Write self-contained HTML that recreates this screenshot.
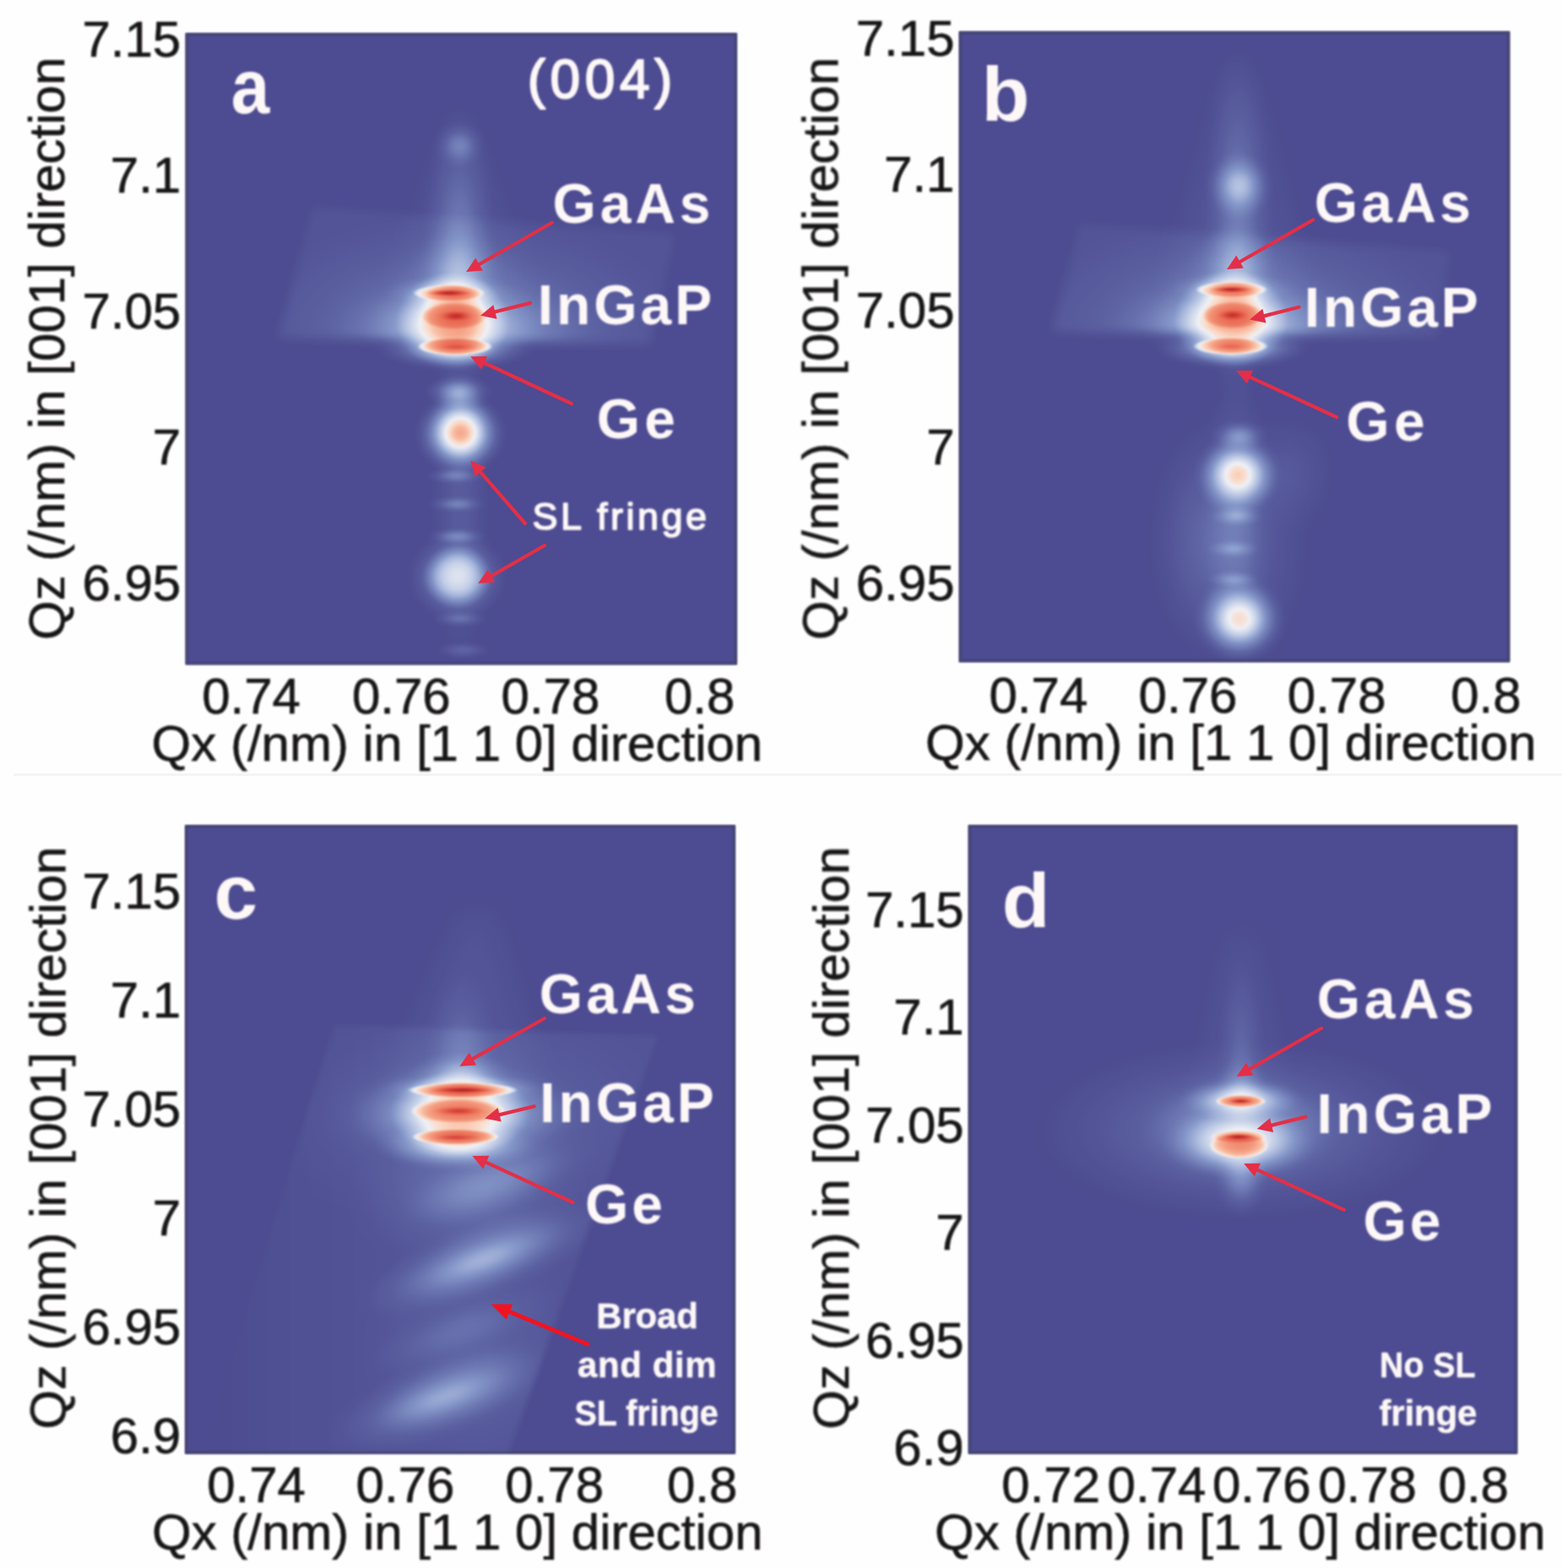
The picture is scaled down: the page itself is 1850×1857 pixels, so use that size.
<!DOCTYPE html>
<html lang="en"><head><meta charset="utf-8"><title>Reciprocal space maps (004)</title>
<style>
html,body{margin:0;padding:0;background:#fff;}
body{width:1850px;height:1857px;overflow:hidden;}
svg{display:block;}
text{font-family:"Liberation Sans", Arial, Helvetica, sans-serif;}
</style></head><body>
<svg width="1850" height="1857" viewBox="0 0 1850 1857">
<defs>
<radialGradient id="g1"><stop offset="0" stop-color="#fff" stop-opacity="1"/><stop offset="0.15" stop-color="#fff" stop-opacity="0.93"/><stop offset="0.3" stop-color="#fff" stop-opacity="0.76"/><stop offset="0.45" stop-color="#fff" stop-opacity="0.54"/><stop offset="0.6" stop-color="#fff" stop-opacity="0.33"/><stop offset="0.75" stop-color="#fff" stop-opacity="0.16"/><stop offset="0.88" stop-color="#fff" stop-opacity="0.05"/><stop offset="1" stop-color="#fff" stop-opacity="0"/></radialGradient>
<radialGradient id="gh"><stop offset="0" stop-color="#fff" stop-opacity="1"/><stop offset="0.4" stop-color="#fff" stop-opacity="0.95"/><stop offset="0.6" stop-color="#fff" stop-opacity="0.75"/><stop offset="0.8" stop-color="#fff" stop-opacity="0.35"/><stop offset="1" stop-color="#fff" stop-opacity="0"/></radialGradient>
<radialGradient id="pk"><stop offset="0" stop-color="#fff" stop-opacity="1"/><stop offset="0.5" stop-color="#fff" stop-opacity="0.95"/><stop offset="0.75" stop-color="#fff" stop-opacity="0.8"/><stop offset="0.9" stop-color="#fff" stop-opacity="0.5"/><stop offset="1" stop-color="#fff" stop-opacity="0"/></radialGradient>
<filter id="cmap" x="-2%" y="-2%" width="104%" height="104%" color-interpolation-filters="sRGB">
<feComponentTransfer>
<feFuncR type="table" tableValues="0.302 0.315 0.327 0.340 0.352 0.365 0.385 0.404 0.424 0.444 0.464 0.484 0.504 0.531 0.565 0.600 0.634 0.668 0.703 0.737 0.771 0.805 0.839 0.873 0.907 0.941 0.952 0.963 0.974 0.984 0.980 0.975 0.970 0.965 0.961 0.952 0.944 0.935 0.926 0.918 0.900 0.883 0.866 0.849 0.831 0.796 0.760 0.724 0.682 0.635 0.588"/>
<feFuncG type="table" tableValues="0.298 0.316 0.334 0.352 0.370 0.388 0.414 0.441 0.467 0.493 0.519 0.545 0.571 0.600 0.631 0.663 0.694 0.725 0.757 0.788 0.814 0.841 0.867 0.893 0.919 0.945 0.921 0.896 0.872 0.847 0.803 0.759 0.715 0.671 0.627 0.587 0.546 0.505 0.464 0.424 0.387 0.351 0.315 0.279 0.243 0.218 0.194 0.169 0.147 0.129 0.110"/>
<feFuncB type="table" tableValues="0.569 0.583 0.597 0.611 0.625 0.639 0.659 0.678 0.697 0.717 0.736 0.755 0.775 0.793 0.811 0.828 0.846 0.863 0.881 0.898 0.909 0.920 0.931 0.942 0.954 0.965 0.916 0.867 0.818 0.769 0.717 0.665 0.613 0.562 0.510 0.475 0.441 0.406 0.372 0.337 0.311 0.284 0.257 0.231 0.204 0.190 0.177 0.164 0.152 0.143 0.133"/>
</feComponentTransfer>
<feGaussianBlur stdDeviation="1.1"/>
</filter>
<filter id="edge" x="-2%" y="-2%" width="104%" height="104%"><feGaussianBlur stdDeviation="0.9"/></filter>
<linearGradient id="lgc" x1="0" y1="0" x2="1" y2="0"><stop offset="0" stop-color="#fff" stop-opacity="0"/><stop offset="0.45" stop-color="#fff" stop-opacity="1"/><stop offset="1" stop-color="#fff" stop-opacity="1"/></linearGradient>
<filter id="soft" x="-5%" y="-20%" width="110%" height="140%"><feGaussianBlur stdDeviation="0.95"/></filter>
<filter id="b3" x="-20%" y="-20%" width="140%" height="140%"><feGaussianBlur stdDeviation="3"/></filter>
<filter id="b6" x="-20%" y="-20%" width="140%" height="140%"><feGaussianBlur stdDeviation="6"/></filter>
<filter id="b10" x="-30%" y="-30%" width="160%" height="160%"><feGaussianBlur stdDeviation="10"/></filter>
<filter id="b20" x="-50%" y="-50%" width="200%" height="200%"><feGaussianBlur stdDeviation="20"/></filter>
</defs>
<rect width="1850" height="1857" fill="#fefefe"/>
<rect x="16" y="916" width="1834" height="3" fill="#f4f4f4"/>

<!-- panel a -->
<clipPath id="cpa"><rect x="219.4" y="39" width="653.6" height="748.5"/></clipPath>
<g filter="url(#cmap)"><g clip-path="url(#cpa)">
<rect x="219.4" y="39" width="653.6" height="748.5" fill="#000"/>
<clipPath id="ka1"><polygon points="371,246 799,278 770,408 329,400"/></clipPath>
<g filter="url(#b6)"><g clip-path="url(#ka1)">
<polygon points="300,200 850,200 850,450 300,450" fill="#fff" opacity="0.04"/>
<ellipse cx="545" cy="392" rx="270" ry="140" fill="url(#g1)" opacity="0.17"/>
<ellipse cx="545" cy="390" rx="160" ry="60" fill="url(#g1)" opacity="0.14"/>
</g></g>
<polygon points="535,150 555,150 620,350 470,350" fill="#fff" opacity="0.04" filter="url(#b20)"/>
<ellipse cx="544" cy="300" rx="46" ry="190" fill="url(#g1)" opacity="0.15"/>
<ellipse cx="542" cy="325" rx="60" ry="60" fill="url(#g1)" opacity="0.12"/>
<ellipse cx="545" cy="600" rx="40" ry="220" fill="url(#g1)" opacity="0.07"/>
<ellipse cx="538" cy="385" rx="110" ry="62" fill="url(#g1)" opacity="0.2"/>
<ellipse cx="536" cy="380" rx="68" ry="58" fill="url(#gh)" opacity="0.26"/>
<ellipse cx="540" cy="414" rx="95" ry="24" fill="url(#g1)" opacity="0.3"/>
<ellipse cx="532" cy="345" rx="80" ry="20" fill="url(#g1)" opacity="0.15"/>
<ellipse cx="536" cy="378" rx="42" ry="46" fill="url(#gh)" opacity="0.17"/>
<ellipse cx="531.6" cy="347" rx="43" ry="9.5" fill="url(#pk)" opacity="0.36"/>
<ellipse cx="531.6" cy="347" rx="30" ry="4.5" fill="url(#g1)" opacity="0.85"/>
<ellipse cx="537.5" cy="374.3" rx="39" ry="16" fill="url(#pk)" opacity="0.33"/>
<ellipse cx="540" cy="374.3" rx="22" ry="7" fill="url(#g1)" opacity="0.7"/>
<ellipse cx="539" cy="410.6" rx="45" ry="10" fill="url(#pk)" opacity="0.45"/>
<ellipse cx="541" cy="411" rx="28" ry="4.5" fill="url(#g1)" opacity="0.3"/>
<ellipse cx="545.4" cy="513.7" rx="56" ry="50" fill="url(#g1)" opacity="0.61"/>
<ellipse cx="545.4" cy="500" rx="40" ry="50" fill="url(#g1)" opacity="0.15"/>
<ellipse cx="541.4" cy="683" rx="62" ry="56" fill="url(#g1)" opacity="0.3"/>
<ellipse cx="541.4" cy="683" rx="42" ry="38" fill="url(#gh)" opacity="0.2"/>
<ellipse cx="544.4" cy="172" rx="32" ry="30" fill="url(#g1)" opacity="0.15"/>
<ellipse cx="543" cy="464" rx="42" ry="22" fill="url(#g1)" opacity="0.27"/>
<ellipse cx="539" cy="563.5" rx="38" ry="11" fill="url(#g1)" opacity="0.15"/>
<ellipse cx="541" cy="597" rx="38" ry="11" fill="url(#g1)" opacity="0.14"/>
<ellipse cx="541" cy="635" rx="38" ry="11" fill="url(#g1)" opacity="0.15"/>
<ellipse cx="545" cy="733" rx="36" ry="11" fill="url(#g1)" opacity="0.12"/>
<ellipse cx="549" cy="770" rx="36" ry="11" fill="url(#g1)" opacity="0.1"/>
</g></g>
<rect x="221.1" y="40.7" width="650.2" height="745.1" fill="none" stroke="#3a3a52" stroke-width="2.6" opacity="0.6" filter="url(#edge)"/>
<path d="M653.8 263.7L565.0 314.5" stroke="#e32f48" stroke-width="4.2" stroke-linecap="round" fill="none"/><path d="M552.0 322.0L563.3 305.6L571.9 320.5Z" fill="#e32f48"/>
<path d="M627.9 358.9L583.5 370.0" stroke="#e32f48" stroke-width="4.2" stroke-linecap="round" fill="none"/><path d="M569.0 373.7L584.4 361.0L588.6 377.7Z" fill="#e32f48"/>
<path d="M677.0 478.0L570.9 428.5" stroke="#e32f48" stroke-width="4.2" stroke-linecap="round" fill="none"/><path d="M557.3 422.2L577.2 422.0L570.0 437.6Z" fill="#e32f48"/>
<path d="M622.0 620.0L567.2 556.8" stroke="#e32f48" stroke-width="4.2" stroke-linecap="round" fill="none"/><path d="M557.4 545.5L575.7 553.5L562.7 564.7Z" fill="#e32f48"/>
<path d="M645.0 646.0L579.3 683.6" stroke="#e32f48" stroke-width="4.2" stroke-linecap="round" fill="none"/><path d="M566.3 691.0L577.7 674.6L586.2 689.5Z" fill="#e32f48"/>
<text transform="translate(273.80 134.2) scale(0.900 1)" font-size="91" fill="#fdf8f7" font-weight="bold" filter="url(#soft)">a</text>
<text x="624.7" y="115.6" font-size="64" fill="#fdf8f7" stroke="#fdf8f7" stroke-width="2" stroke-linejoin="round" letter-spacing="5.57" filter="url(#soft)">(004)</text>
<text x="654.6" y="263.5" font-size="66" fill="#fdf8f7" font-weight="bold" letter-spacing="4.80" filter="url(#soft)">GaAs</text>
<text x="636.8" y="383.6" font-size="66" fill="#fdf8f7" font-weight="bold" letter-spacing="3.93" filter="url(#soft)">InGaP</text>
<text x="706.8" y="518.6" font-size="66" fill="#fdf8f7" font-weight="bold" letter-spacing="5.20" filter="url(#soft)">Ge</text>
<text x="630.4" y="627" font-size="45" fill="#fdf8f7" stroke="#fdf8f7" stroke-width="1.6" stroke-linejoin="round" letter-spacing="3.54" filter="url(#soft)">SL fringe</text>
<text x="214.2" y="67.3" font-size="60" fill="#151313" text-anchor="end" stroke="#151313" stroke-width="0.6" filter="url(#soft)">7.15</text>
<text x="214.2" y="228.2" font-size="60" fill="#151313" text-anchor="end" stroke="#151313" stroke-width="0.6" filter="url(#soft)">7.1</text>
<text x="214.2" y="389.1" font-size="60" fill="#151313" text-anchor="end" stroke="#151313" stroke-width="0.6" filter="url(#soft)">7.05</text>
<text x="214.2" y="550" font-size="60" fill="#151313" text-anchor="end" stroke="#151313" stroke-width="0.6" filter="url(#soft)">7</text>
<text x="214.2" y="710.9" font-size="60" fill="#151313" text-anchor="end" stroke="#151313" stroke-width="0.6" filter="url(#soft)">6.95</text>
<text x="297.6" y="844.8" font-size="60" fill="#151313" text-anchor="middle" stroke="#151313" stroke-width="0.6" filter="url(#soft)">0.74</text>
<text x="475.3" y="844.8" font-size="60" fill="#151313" text-anchor="middle" stroke="#151313" stroke-width="0.6" filter="url(#soft)">0.76</text>
<text x="652" y="844.8" font-size="60" fill="#151313" text-anchor="middle" stroke="#151313" stroke-width="0.6" filter="url(#soft)">0.78</text>
<text x="828.6" y="844.8" font-size="60" fill="#151313" text-anchor="middle" stroke="#151313" stroke-width="0.6" filter="url(#soft)">0.8</text>
<text x="179.6" y="901.2" font-size="60" fill="#151313" stroke="#151313" stroke-width="0.6" filter="url(#soft)">Qx (/nm) in [1 1 0] direction</text>
<text x="76" y="758" font-size="60" fill="#151313" transform="rotate(-90 76 758)" stroke="#151313" stroke-width="0.6" filter="url(#soft)">Qz (/nm) in [001] direction</text>
<!-- panel b -->
<clipPath id="cpb"><rect x="1135.5" y="37" width="653" height="747.5"/></clipPath>
<g filter="url(#cmap)"><g clip-path="url(#cpb)">
<rect x="1135.5" y="37" width="653" height="747.5" fill="#000"/>
<clipPath id="kb1"><polygon points="1279,266 1717,298 1703,399 1245,393"/></clipPath>
<g filter="url(#b6)"><g clip-path="url(#kb1)">
<polygon points="1200,200 1780,200 1780,450 1200,450" fill="#fff" opacity="0.04"/>
<ellipse cx="1466" cy="390" rx="270" ry="140" fill="url(#g1)" opacity="0.17"/>
<ellipse cx="1466" cy="388" rx="160" ry="60" fill="url(#g1)" opacity="0.14"/>
</g></g>
<polygon points="1458,80 1476,80 1545,345 1385,345" fill="#fff" opacity="0.04" filter="url(#b20)"/>
<ellipse cx="1466" cy="270" rx="44" ry="230" fill="url(#g1)" opacity="0.15"/>
<ellipse cx="1462" cy="322" rx="60" ry="60" fill="url(#g1)" opacity="0.12"/>
<ellipse cx="1464" cy="620" rx="45" ry="200" fill="url(#g1)" opacity="0.09"/>
<ellipse cx="1420" cy="640" rx="70" ry="150" fill="url(#g1)" opacity="0.07"/>
<ellipse cx="1530" cy="560" rx="60" ry="80" fill="url(#g1)" opacity="0.05"/>
<ellipse cx="1459" cy="383" rx="110" ry="62" fill="url(#g1)" opacity="0.2"/>
<ellipse cx="1458" cy="378" rx="68" ry="58" fill="url(#gh)" opacity="0.26"/>
<ellipse cx="1459" cy="413" rx="95" ry="24" fill="url(#g1)" opacity="0.3"/>
<ellipse cx="1458" cy="341" rx="80" ry="20" fill="url(#g1)" opacity="0.15"/>
<ellipse cx="1458" cy="377" rx="42" ry="46" fill="url(#gh)" opacity="0.17"/>
<ellipse cx="1458.7" cy="342.9" rx="43" ry="9" fill="url(#pk)" opacity="0.36"/>
<ellipse cx="1458.7" cy="342.9" rx="28" ry="4.2" fill="url(#g1)" opacity="0.85"/>
<ellipse cx="1459.9" cy="373.2" rx="36" ry="16" fill="url(#pk)" opacity="0.33"/>
<ellipse cx="1460" cy="373.2" rx="20" ry="7" fill="url(#g1)" opacity="0.65"/>
<ellipse cx="1457.5" cy="410.1" rx="45" ry="10" fill="url(#pk)" opacity="0.42"/>
<ellipse cx="1458" cy="410.5" rx="26" ry="4.5" fill="url(#g1)" opacity="0.2"/>
<ellipse cx="1466" cy="640" rx="95" ry="180" fill="url(#g1)" opacity="0.09"/>
<ellipse cx="1466.5" cy="562" rx="54" ry="50" fill="url(#g1)" opacity="0.55"/>
<ellipse cx="1468.3" cy="733.4" rx="56" ry="52" fill="url(#g1)" opacity="0.54"/>
<ellipse cx="1468" cy="220" rx="42" ry="42" fill="url(#g1)" opacity="0.25"/>
<ellipse cx="1468" cy="516" rx="36" ry="20" fill="url(#g1)" opacity="0.2"/>
<ellipse cx="1465" cy="611" rx="34" ry="14" fill="url(#g1)" opacity="0.16"/>
<ellipse cx="1461" cy="650" rx="34" ry="12" fill="url(#g1)" opacity="0.13"/>
<ellipse cx="1461" cy="686" rx="34" ry="12" fill="url(#g1)" opacity="0.14"/>
</g></g>
<rect x="1137.2" y="38.7" width="649.6" height="744.1" fill="none" stroke="#3a3a52" stroke-width="2.6" opacity="0.6" filter="url(#edge)"/>
<path d="M1555.0 260.5L1466.0 311.5" stroke="#e32f48" stroke-width="4.2" stroke-linecap="round" fill="none"/><path d="M1453.0 319.0L1464.3 302.6L1472.9 317.5Z" fill="#e32f48"/>
<path d="M1538.4 363.7L1494.5 374.9" stroke="#e32f48" stroke-width="4.2" stroke-linecap="round" fill="none"/><path d="M1480.0 378.6L1495.3 365.8L1499.6 382.5Z" fill="#e32f48"/>
<path d="M1583.0 494.0L1477.8 445.3" stroke="#e32f48" stroke-width="4.2" stroke-linecap="round" fill="none"/><path d="M1464.2 439.0L1484.1 438.8L1476.9 454.4Z" fill="#e32f48"/>
<text transform="translate(1162.46 142.6) scale(1.024 1)" font-size="91" fill="#fdf8f7" font-weight="bold" filter="url(#soft)">b</text>
<text x="1556.8" y="263.3" font-size="66" fill="#fdf8f7" font-weight="bold" letter-spacing="4.23" filter="url(#soft)">GaAs</text>
<text x="1544.8" y="387.4" font-size="66" fill="#fdf8f7" font-weight="bold" letter-spacing="3.80" filter="url(#soft)">InGaP</text>
<text x="1594.3" y="522" font-size="66" fill="#fdf8f7" font-weight="bold" letter-spacing="5.40" filter="url(#soft)">Ge</text>
<text x="1130.5" y="66.2" font-size="60" fill="#151313" text-anchor="end" stroke="#151313" stroke-width="0.6" filter="url(#soft)">7.15</text>
<text x="1130.5" y="227.3" font-size="60" fill="#151313" text-anchor="end" stroke="#151313" stroke-width="0.6" filter="url(#soft)">7.1</text>
<text x="1130.5" y="388.4" font-size="60" fill="#151313" text-anchor="end" stroke="#151313" stroke-width="0.6" filter="url(#soft)">7.05</text>
<text x="1130.5" y="549.5" font-size="60" fill="#151313" text-anchor="end" stroke="#151313" stroke-width="0.6" filter="url(#soft)">7</text>
<text x="1130.5" y="710.6" font-size="60" fill="#151313" text-anchor="end" stroke="#151313" stroke-width="0.6" filter="url(#soft)">6.95</text>
<text x="1229.9" y="844" font-size="60" fill="#151313" text-anchor="middle" stroke="#151313" stroke-width="0.6" filter="url(#soft)">0.74</text>
<text x="1407" y="844" font-size="60" fill="#151313" text-anchor="middle" stroke="#151313" stroke-width="0.6" filter="url(#soft)">0.76</text>
<text x="1583.2" y="844" font-size="60" fill="#151313" text-anchor="middle" stroke="#151313" stroke-width="0.6" filter="url(#soft)">0.78</text>
<text x="1759.9" y="844" font-size="60" fill="#151313" text-anchor="middle" stroke="#151313" stroke-width="0.6" filter="url(#soft)">0.8</text>
<text x="1096" y="900.2" font-size="60" fill="#151313" stroke="#151313" stroke-width="0.6" filter="url(#soft)">Qx (/nm) in [1 1 0] direction</text>
<text x="992.3" y="758" font-size="60" fill="#151313" transform="rotate(-90 992.3 758)" stroke="#151313" stroke-width="0.6" filter="url(#soft)">Qz (/nm) in [001] direction</text>
<!-- panel c -->
<clipPath id="cpc"><rect x="219" y="977" width="652" height="745"/></clipPath>
<g filter="url(#cmap)"><g clip-path="url(#cpc)">
<rect x="219" y="977" width="652" height="745" fill="#000"/>
<clipPath id="kc1"><polygon points="396,1214 779,1227 601,1725 237,1725"/></clipPath>
<g filter="url(#b3)"><g clip-path="url(#kc1)">
<polygon points="230,1200 800,1200 800,1730 230,1730" fill="url(#lgc)" opacity="0.04"/>
<ellipse cx="545" cy="1320" rx="270" ry="140" fill="url(#g1)" opacity="0.07"/>
<ellipse cx="545" cy="1320" rx="170" ry="70" fill="url(#g1)" opacity="0.1"/>
<ellipse cx="555" cy="1420" rx="150" ry="90" fill="url(#g1)" opacity="0.1"/>
<ellipse cx="560" cy="1600" rx="140" ry="160" fill="url(#g1)" opacity="0.06"/>
<ellipse cx="590" cy="1398" rx="130" ry="40" fill="url(#g1)" opacity="0.12" transform="rotate(-19 590 1398)"/>
<ellipse cx="572" cy="1492" rx="160" ry="46" fill="url(#g1)" opacity="0.22" transform="rotate(-20 572 1492)"/>
<ellipse cx="572" cy="1492" rx="90" ry="24" fill="url(#g1)" opacity="0.08" transform="rotate(-20 572 1492)"/>
<ellipse cx="525" cy="1655" rx="150" ry="48" fill="url(#g1)" opacity="0.2" transform="rotate(-20 525 1655)"/>
<ellipse cx="525" cy="1655" rx="90" ry="24" fill="url(#g1)" opacity="0.07" transform="rotate(-20 525 1655)"/>
<ellipse cx="545" cy="1575" rx="130" ry="34" fill="url(#g1)" opacity="0.06" transform="rotate(-20 545 1575)"/>
</g></g>
<polygon points="552,1080 580,1080 640,1290 460,1290" fill="#fff" opacity="0.04" filter="url(#b20)"/>
<ellipse cx="547" cy="1250" rx="46" ry="110" fill="url(#g1)" opacity="0.1"/>
<ellipse cx="546" cy="1272" rx="65" ry="28" fill="url(#g1)" opacity="0.17"/>
<ellipse cx="545" cy="1320" rx="145" ry="62" fill="url(#g1)" opacity="0.27"/>
<ellipse cx="545" cy="1318" rx="84" ry="50" fill="url(#gh)" opacity="0.26"/>
<ellipse cx="542" cy="1357" rx="100" ry="30" fill="url(#g1)" opacity="0.33"/>
<ellipse cx="548" cy="1289" rx="100" ry="18" fill="url(#g1)" opacity="0.22"/>
<ellipse cx="544" cy="1318" rx="54" ry="40" fill="url(#gh)" opacity="0.12"/>
<ellipse cx="548.1" cy="1291" rx="66" ry="8.5" fill="url(#pk)" opacity="0.45"/>
<ellipse cx="548.1" cy="1291" rx="44" ry="4" fill="url(#g1)" opacity="0.85"/>
<ellipse cx="542" cy="1315.8" rx="56" ry="14" fill="url(#pk)" opacity="0.33"/>
<ellipse cx="543" cy="1315.8" rx="34" ry="6" fill="url(#g1)" opacity="0.55"/>
<ellipse cx="539.4" cy="1346.5" rx="52" ry="9" fill="url(#pk)" opacity="0.45"/>
<ellipse cx="540" cy="1347" rx="32" ry="4" fill="url(#g1)" opacity="0.45"/>
</g></g>
<rect x="220.7" y="978.7" width="648.6" height="741.6" fill="none" stroke="#3a3a52" stroke-width="2.6" opacity="0.6" filter="url(#edge)"/>
<path d="M645.0 1206.0L557.4 1255.4" stroke="#e32f48" stroke-width="4.2" stroke-linecap="round" fill="none"/><path d="M544.3 1262.8L555.8 1246.5L564.2 1261.4Z" fill="#e32f48"/>
<path d="M632.7 1310.2L588.8 1320.9" stroke="#e32f48" stroke-width="4.2" stroke-linecap="round" fill="none"/><path d="M574.2 1324.5L589.6 1311.9L593.7 1328.6Z" fill="#e32f48"/>
<path d="M678.5 1424.0L573.1 1375.3" stroke="#e32f48" stroke-width="4.2" stroke-linecap="round" fill="none"/><path d="M559.5 1369.0L579.4 1368.7L572.2 1384.4Z" fill="#e32f48"/>
<path d="M696.0 1592.0L600.7 1552.4" stroke="#f01422" stroke-width="5" stroke-linecap="round" fill="none"/><path d="M581.3 1544.4L607.3 1544.4L599.6 1562.8Z" fill="#f01422"/>
<text transform="translate(253.48 1088.3) scale(1.030 1)" font-size="90" fill="#fdf8f7" font-weight="bold" filter="url(#soft)">c</text>
<text x="638.8" y="1199.8" font-size="66" fill="#fdf8f7" font-weight="bold" letter-spacing="4.23" filter="url(#soft)">GaAs</text>
<text x="639.2" y="1329.4" font-size="66" fill="#fdf8f7" font-weight="bold" letter-spacing="3.95" filter="url(#soft)">InGaP</text>
<text x="693" y="1449" font-size="66" fill="#fdf8f7" font-weight="bold" letter-spacing="4.00" filter="url(#soft)">Ge</text>
<text x="706.3" y="1573.4" font-size="42" fill="#fdf8f7" font-weight="bold" stroke="#fdf8f7" stroke-width="0.5" stroke-linejoin="round" letter-spacing="-0.20" filter="url(#soft)">Broad</text>
<text x="684" y="1631" font-size="42" fill="#fdf8f7" font-weight="bold" stroke="#fdf8f7" stroke-width="0.5" stroke-linejoin="round" letter-spacing="0.58" filter="url(#soft)">and dim</text>
<text transform="translate(680.56 1687.6) scale(0.939 1)" font-size="42" fill="#fdf8f7" font-weight="bold" stroke="#fdf8f7" stroke-width="0.5" stroke-linejoin="round" filter="url(#soft)">SL fringe</text>
<text x="214.2" y="1075.5" font-size="60" fill="#151313" text-anchor="end" stroke="#151313" stroke-width="0.6" filter="url(#soft)">7.15</text>
<text x="214.2" y="1204.5" font-size="60" fill="#151313" text-anchor="end" stroke="#151313" stroke-width="0.6" filter="url(#soft)">7.1</text>
<text x="214.2" y="1333.5" font-size="60" fill="#151313" text-anchor="end" stroke="#151313" stroke-width="0.6" filter="url(#soft)">7.05</text>
<text x="214.2" y="1462.5" font-size="60" fill="#151313" text-anchor="end" stroke="#151313" stroke-width="0.6" filter="url(#soft)">7</text>
<text x="214.2" y="1591.5" font-size="60" fill="#151313" text-anchor="end" stroke="#151313" stroke-width="0.6" filter="url(#soft)">6.95</text>
<text x="214.2" y="1720.5" font-size="60" fill="#151313" text-anchor="end" stroke="#151313" stroke-width="0.6" filter="url(#soft)">6.9</text>
<text x="303.6" y="1779" font-size="60" fill="#151313" text-anchor="middle" stroke="#151313" stroke-width="0.6" filter="url(#soft)">0.74</text>
<text x="480" y="1779" font-size="60" fill="#151313" text-anchor="middle" stroke="#151313" stroke-width="0.6" filter="url(#soft)">0.76</text>
<text x="656.7" y="1779" font-size="60" fill="#151313" text-anchor="middle" stroke="#151313" stroke-width="0.6" filter="url(#soft)">0.78</text>
<text x="831.7" y="1779" font-size="60" fill="#151313" text-anchor="middle" stroke="#151313" stroke-width="0.6" filter="url(#soft)">0.8</text>
<text x="180" y="1835" font-size="60" fill="#151313" stroke="#151313" stroke-width="0.6" filter="url(#soft)">Qx (/nm) in [1 1 0] direction</text>
<text x="77.2" y="1692.8" font-size="60" fill="#151313" transform="rotate(-90 77.2 1692.8)" stroke="#151313" stroke-width="0.6" filter="url(#soft)">Qz (/nm) in [001] direction</text>
<!-- panel d -->
<clipPath id="cpd"><rect x="1146.5" y="977" width="651" height="745"/></clipPath>
<g filter="url(#cmap)"><g clip-path="url(#cpd)">
<rect x="1146.5" y="977" width="651" height="745" fill="#000"/>
<ellipse cx="1470" cy="1338" rx="260" ry="115" fill="url(#g1)" opacity="0.16"/>
<polygon points="1462,1100 1478,1100 1520,1300 1420,1300" fill="#fff" opacity="0.04" filter="url(#b20)"/>
<ellipse cx="1470" cy="1250" rx="30" ry="130" fill="url(#g1)" opacity="0.08"/>
<ellipse cx="1470" cy="1290" rx="36" ry="40" fill="url(#g1)" opacity="0.1"/>
<ellipse cx="1470" cy="1395" rx="34" ry="50" fill="url(#g1)" opacity="0.16"/>
<ellipse cx="1468" cy="1338" rx="125" ry="75" fill="url(#g1)" opacity="0.17"/>
<ellipse cx="1469.4" cy="1303" rx="75" ry="26" fill="url(#g1)" opacity="0.36"/>
<ellipse cx="1468" cy="1353" rx="92" ry="44" fill="url(#g1)" opacity="0.4"/>
<ellipse cx="1469.4" cy="1304.1" rx="30" ry="7" fill="url(#pk)" opacity="0.45"/>
<ellipse cx="1469.4" cy="1304.1" rx="17" ry="3.2" fill="url(#g1)" opacity="0.85"/>
<ellipse cx="1467.5" cy="1357" rx="35" ry="15" fill="url(#pk)" opacity="0.36"/>
<ellipse cx="1467" cy="1346.4" rx="33" ry="7" fill="url(#pk)" opacity="0.3"/>
<ellipse cx="1467" cy="1346.4" rx="22" ry="3.8" fill="url(#g1)" opacity="0.85"/>
</g></g>
<rect x="1148.2" y="978.7" width="647.6" height="741.6" fill="none" stroke="#3a3a52" stroke-width="2.6" opacity="0.6" filter="url(#edge)"/>
<path d="M1565.0 1217.7L1477.5 1267.6" stroke="#e32f48" stroke-width="4.2" stroke-linecap="round" fill="none"/><path d="M1464.5 1275.0L1475.9 1258.6L1484.4 1273.6Z" fill="#e32f48"/>
<path d="M1546.5 1322.7L1503.3 1333.4" stroke="#e32f48" stroke-width="4.2" stroke-linecap="round" fill="none"/><path d="M1488.7 1337.0L1504.1 1324.3L1508.2 1341.0Z" fill="#e32f48"/>
<path d="M1591.8 1432.8L1486.8 1384.3" stroke="#e32f48" stroke-width="4.2" stroke-linecap="round" fill="none"/><path d="M1473.2 1378.0L1493.1 1377.7L1485.9 1393.4Z" fill="#e32f48"/>
<text transform="translate(1186.77 1097.6) scale(1.033 1)" font-size="90" fill="#fdf8f7" font-weight="bold" filter="url(#soft)">d</text>
<text x="1559.8" y="1205.7" font-size="66" fill="#fdf8f7" font-weight="bold" letter-spacing="4.57" filter="url(#soft)">GaAs</text>
<text x="1559.5" y="1342" font-size="66" fill="#fdf8f7" font-weight="bold" letter-spacing="4.30" filter="url(#soft)">InGaP</text>
<text x="1614.6" y="1469.3" font-size="66" fill="#fdf8f7" font-weight="bold" letter-spacing="3.80" filter="url(#soft)">Ge</text>
<text transform="translate(1634.03 1631) scale(0.936 1)" font-size="42" fill="#fdf8f7" font-weight="bold" stroke="#fdf8f7" stroke-width="0.5" stroke-linejoin="round" filter="url(#soft)">No SL</text>
<text x="1633.4" y="1687.5" font-size="42" fill="#fdf8f7" font-weight="bold" stroke="#fdf8f7" stroke-width="0.5" stroke-linejoin="round" letter-spacing="-0.12" filter="url(#soft)">fringe</text>
<text x="1141.7" y="1097.9" font-size="60" fill="#151313" text-anchor="end" stroke="#151313" stroke-width="0.6" filter="url(#soft)">7.15</text>
<text x="1141.7" y="1225.4" font-size="60" fill="#151313" text-anchor="end" stroke="#151313" stroke-width="0.6" filter="url(#soft)">7.1</text>
<text x="1141.7" y="1352.8" font-size="60" fill="#151313" text-anchor="end" stroke="#151313" stroke-width="0.6" filter="url(#soft)">7.05</text>
<text x="1141.7" y="1480.3" font-size="60" fill="#151313" text-anchor="end" stroke="#151313" stroke-width="0.6" filter="url(#soft)">7</text>
<text x="1141.7" y="1607.7" font-size="60" fill="#151313" text-anchor="end" stroke="#151313" stroke-width="0.6" filter="url(#soft)">6.95</text>
<text x="1141.7" y="1735.2" font-size="60" fill="#151313" text-anchor="end" stroke="#151313" stroke-width="0.6" filter="url(#soft)">6.9</text>
<text x="1244.7" y="1779" font-size="60" fill="#151313" text-anchor="middle" stroke="#151313" stroke-width="0.6" filter="url(#soft)">0.72</text>
<text x="1370" y="1779" font-size="60" fill="#151313" text-anchor="middle" stroke="#151313" stroke-width="0.6" filter="url(#soft)">0.74</text>
<text x="1494.3" y="1779" font-size="60" fill="#151313" text-anchor="middle" stroke="#151313" stroke-width="0.6" filter="url(#soft)">0.76</text>
<text x="1619.6" y="1779" font-size="60" fill="#151313" text-anchor="middle" stroke="#151313" stroke-width="0.6" filter="url(#soft)">0.78</text>
<text x="1745.3" y="1779" font-size="60" fill="#151313" text-anchor="middle" stroke="#151313" stroke-width="0.6" filter="url(#soft)">0.8</text>
<text x="1107" y="1835" font-size="60" fill="#151313" stroke="#151313" stroke-width="0.6" filter="url(#soft)">Qx (/nm) in [1 1 0] direction</text>
<text x="1004.8" y="1692.8" font-size="60" fill="#151313" transform="rotate(-90 1004.8 1692.8)" stroke="#151313" stroke-width="0.6" filter="url(#soft)">Qz (/nm) in [001] direction</text>
</svg>
</body></html>
